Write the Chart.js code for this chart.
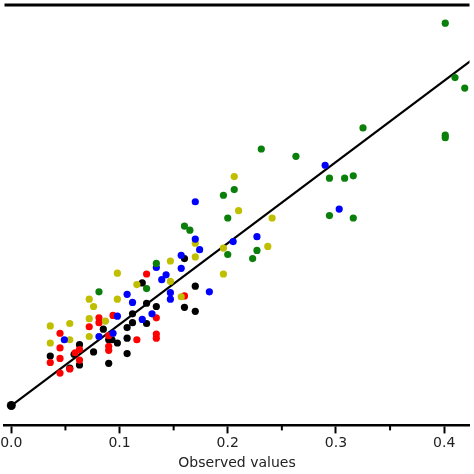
<!DOCTYPE html>
<html lang="en">
<head>
    <meta charset="UTF-8">
    <title>Observed vs predicted</title>
    <script src="https://cdn.jsdelivr.net/npm/chart.js"></script>
    <style>
        html, body { margin: 0; padding: 0; background: #fff; }
        #chart { width: 474px; height: 474px; display: block; }
    </style>
</head>
<body>
    <div id="chart"><canvas id="graph"></canvas></div>

    <script>
        // values: [observed, predicted]
        const greenPts = [[0.081,0.140],[0.125,0.144],[0.134,0.175],[0.401,0.471],[0.410,0.404],[0.419,0.391],
            [0.401,0.333],[0.401,0.330],[0.325,0.342],[0.263,0.307],[0.231,0.316],[0.294,0.280],[0.308,0.280],
            [0.316,0.283],[0.294,0.234],[0.316,0.231],[0.196,0.259],[0.206,0.266],[0.200,0.231],[0.160,0.221],
            [0.165,0.216],[0.227,0.191],[0.223,0.181],[0.200,0.186]];
        const bluePts = [[0.049,0.081],[0.081,0.085],[0.094,0.089],[0.098,0.110],[0.107,0.137],[0.112,0.127],
            [0.121,0.106],[0.130,0.113],[0.134,0.170],[0.143,0.161],[0.139,0.155],[0.147,0.139],[0.147,0.131],
            [0.157,0.185],[0.157,0.169],[0.170,0.205],[0.174,0.192],[0.183,0.140],[0.205,0.202],[0.290,0.296],
            [0.303,0.242],[0.170,0.251],[0.227,0.208]];
        const yellowPts = [[0.036,0.098],[0.036,0.077],[0.054,0.101],[0.054,0.081],[0.072,0.131],[0.076,0.122],
            [0.072,0.107],[0.072,0.085],[0.087,0.104],[0.098,0.163],[0.098,0.131],[0.116,0.149],[0.147,0.178],
            [0.147,0.153],[0.157,0.134],[0.170,0.200],[0.170,0.183],[0.196,0.162],[0.196,0.194],[0.206,0.282],
            [0.210,0.240],[0.241,0.231],[0.237,0.196]];
        const redPts = [[0.125,0.162],[0.081,0.108],[0.081,0.102],[0.072,0.097],[0.094,0.111],[0.090,0.073],
            [0.090,0.068],[0.116,0.081],[0.134,0.108],[0.134,0.088],[0.134,0.083],[0.160,0.135],[0.045,0.089],
            [0.045,0.071],[0.045,0.058],[0.036,0.053],[0.045,0.040],[0.054,0.045],[0.059,0.065],[0.063,0.056],
            [0.063,0.069],[0.090,0.086]];
        const blackPts = [[0.160,0.181],[0.121,0.151],[0.170,0.147],[0.125,0.126],[0.134,0.122],[0.160,0.121],
            [0.170,0.116],[0.112,0.113],[0.125,0.101],[0.112,0.102],[0.107,0.096],[0.085,0.094],[0.090,0.081],
            [0.098,0.077],[0.107,0.083],[0.076,0.066],[0.063,0.075],[0.058,0.063],[0.063,0.050],[0.054,0.046],
            [0.036,0.061],[0.090,0.052],[0.107,0.064],[0.093,0.081]];
        const fitLine = [[0, 0], [0.45, 0.45]];
        const xTicks = [0.0, 0.1, 0.2, 0.3, 0.4];
        const xMinorTicks = [0.05, 0.15, 0.25, 0.35];

        const toXY = arr => arr.map(p => ({ x: p[0], y: p[1] }));
        const dots = (data, color) => ({
            type: 'scatter', data: toXY(data), backgroundColor: color, borderWidth: 0,
            pointRadius: 3.6, pointHoverRadius: 3.6
        });

        // top frame + minor ticks
        const framePlugin = {
            id: 'frame',
            afterDraw(chart) {
                const ctx = chart.ctx, a = chart.chartArea, xs = chart.scales.x;
                ctx.save();
                ctx.strokeStyle = '#000';
                ctx.lineWidth = 3;
                ctx.beginPath();
                ctx.moveTo(a.left, a.top + 0.5);
                ctx.lineTo(a.right, a.top + 0.5);
                ctx.stroke();
                ctx.lineWidth = 2;
                xMinorTicks.forEach(v => {
                    const px = xs.getPixelForValue(v);
                    ctx.beginPath();
                    ctx.moveTo(px, a.bottom);
                    ctx.lineTo(px, a.bottom + 5);
                    ctx.stroke();
                });
                ctx.restore();
            }
        };

        Chart.defaults.font.family = 'DejaVu Sans';
        new Chart(document.getElementById('graph'), {
            data: {
                datasets: [
                    dots(greenPts, '#0a7f0a'),
                    dots(bluePts, '#0000ff'),
                    dots(yellowPts, '#bfbf00'),
                    dots(redPts, '#ff0000'),
                    dots(blackPts, '#000000'),
                    {
                        type: 'line', data: toXY(fitLine), borderColor: '#000', borderWidth: 2.2,
                        pointRadius: [4.5, 0], pointBackgroundColor: '#000', pointBorderWidth: 0
                    }
                ]
            },
            options: {
                responsive: true,
                maintainAspectRatio: false,
                animation: false,
                plugins: { legend: { display: false }, tooltip: { enabled: false } },
                layout: { padding: { top: 1, left: 0, right: 0, bottom: 2 } },
                scales: {
                    x: {
                        type: 'linear', min: -0.0063, max: 0.4234,
                        afterBuildTicks: s => { s.ticks = xTicks.map(v => ({ value: v })); },
                        afterFit: s => { s.paddingLeft = 0; s.paddingRight = 0; },
                        ticks: { color: '#222', font: { size: 14 }, padding: 2, callback: v => v.toFixed(1) },
                        grid: { drawOnChartArea: false, drawTicks: true, tickLength: 8, tickWidth: 2, tickColor: '#000' },
                        border: { display: true, color: '#000', width: 2.5 },
                        title: { display: true, text: 'Observed values', color: '#222', font: { size: 14 }, padding: { top: 1, bottom: 0 } }
                    },
                    y: {
                        type: 'linear', min: -0.0245, max: 0.494, display: false
                    }
                }
            },
            plugins: [framePlugin]
        });
    </script>
</body>
</html>
